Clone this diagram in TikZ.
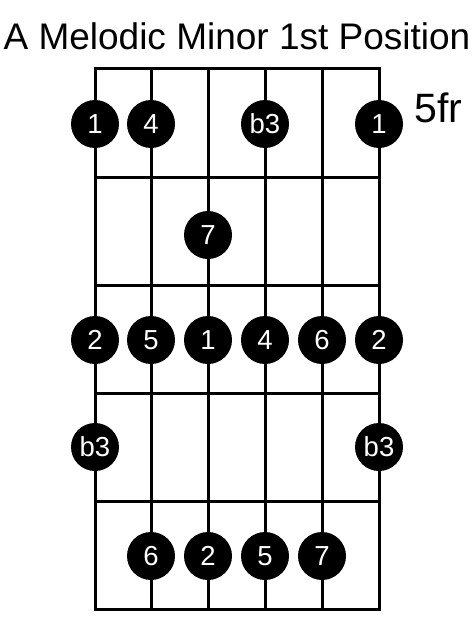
\documentclass[tikz,border=0pt]{standalone}
\usepackage{fontspec}
\setmainfont{Liberation Sans}
\begin{document}
\begin{tikzpicture}[x=1pt,y=-1pt,
	fret/.style={line width=3pt},
	note/.style={circle, fill=black, text=white, minimum size=48pt, inner sep=0pt, font=\fontsize{27.5}{27.5}\selectfont}]
	\useasboundingbox (0,0) rectangle (474,621);
	\node[anchor=base] (title) at (237,49) {\fontsize{37}{37}\selectfont A Melodic Minor 1st Position};
	\node[anchor=base west] (fr) at (411,122) {\fontsize{41}{41}\selectfont 5fr};
	
	\draw[fret] (95,68) rectangle (379,609);
	\foreach \x in {151,208,265,322} \draw[fret] (\x,68) -- (\x,609);
	\foreach \y in {177,285,393,501} \draw[fret] (95,\y) -- (379,\y);
	
	\draw 
	(95,124) node[note](r1a){1} (151,124) node[note](r1b){4} (265,124) node[note](r1d){b3} (379,124) node[note](r1f){1}
	(208,235) node[note](r2c){7}
	(95,340) node[note](r3a){2} (151,340) node[note](r3b){5} (208,340) node[note](r3c){1} (265,340) node[note](r3d){4} (322,340) node[note](r3e){6} (379,340) node[note](r3f){2}
	(95,447) node[note](r4a){b3} (379,447) node[note](r4f){b3}
	(151,556) node[note](r5b){6} (208,556) node[note](r5c){2} (265,556) node[note](r5d){5} (322,556) node[note](r5e){7};
\end{tikzpicture}
\end{document}
